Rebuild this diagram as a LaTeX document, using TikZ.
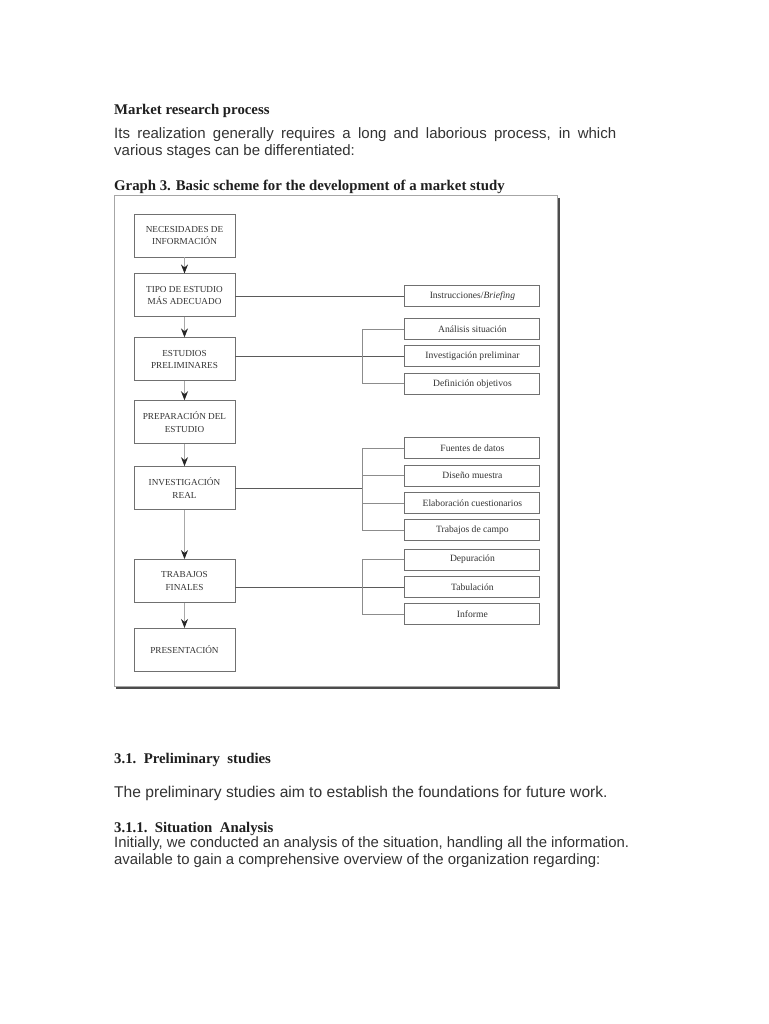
\documentclass[tikz,border=0pt]{standalone}
\usepackage{fontspec}
\setmainfont{Liberation Serif}
\newfontfamily\arialfont{Liberation Sans}
\usetikzlibrary{arrows.meta,positioning}
\definecolor{boxgray}{HTML}{707070}
\definecolor{linegray}{HTML}{5A5A5A}
\definecolor{brgray}{HTML}{8C8C8C}
\definecolor{arrgray}{HTML}{A8A8A8}
\definecolor{txtgray}{HTML}{333333}
\tikzset{
	stage/.style={
		rectangle,
		draw=boxgray,
		line width=0.9pt,
		minimum width=101pt,
		minimum height=43pt,
		align=center,
		inner sep=2pt,
		text=txtgray,
		font=\fontsize{9.2}{12.5}\selectfont
	},
	task/.style={
		rectangle,
		draw=boxgray,
		line width=0.9pt,
		minimum width=135pt,
		minimum height=21pt,
		inner sep=1pt,
		text=txtgray,
		font=\fontsize{9.6}{11}\selectfont
	},
	flow/.style={{Stealth[length=9pt,width=7pt,inset=3pt,color=black!85]}-,draw=arrgray,line width=0.8pt},
	link/.style={draw=linegray,line width=0.8pt},
	brace/.style={draw=brgray,line width=0.8pt},
	heading/.style={anchor=base west,inner sep=0pt,text=black!88,font=\fontsize{14.8}{17}\selectfont\bfseries},
	body/.style={anchor=base west,inner sep=0pt,text=txtgray,font=\arialfont\fontsize{15}{17}\selectfont}
}

\begin{document}
\begin{tikzpicture}[x=1pt,y=-1pt,node distance=5.5pt and 169pt]
	\useasboundingbox[fill=white] (0,0) rectangle (768,1024);
	% page text above the graph
	\node[heading] (title) at (114,115) {Market research process};
	\node[body] (intro1) at (114,139) {\makebox[502pt][s]{Its realization generally requires a long and laborious process, in which}};
	\node[body] (intro2) at (114,156) {various stages can be differentiated:};
	\node[heading] (caption) at (114,191) {Graph 3. Basic scheme for the development of a market study};

	% frame with shadow
	\draw[draw=gray!70,line width=0.8pt] (114,195) rectangle (557,686);
	\draw[draw=black!70,line width=1.6pt] (559,198) -- (559,688) -- (116,688);

	% main stages
	\node[stage] (need) at (184.5,235.5) {NECESIDADES DE\\INFORMACIÓN};
	\node[stage] (type) [below=16pt of need] {TIPO DE ESTUDIO\\MÁS ADECUADO} edge[flow] (need);
	\node[stage] (prelim) [below=20pt of type] {ESTUDIOS\\PRELIMINARES} edge[flow] (type);
	\node[stage] (prep) [below=19pt of prelim] {PREPARACIÓN DEL\\ESTUDIO} edge[flow] (prelim);
	\node[stage] (real) [below=22pt of prep] {INVESTIGACIÓN\\REAL} edge[flow] (prep);
	\node[stage] (final) [below=49pt of real] {TRABAJOS\\FINALES} edge[flow] (real);
	\node[stage] (pres) [below=25pt of final] {PRESENTACIÓN} edge[flow] (final);

	% tasks
	\node[task] (brief) [right=of type,yshift=-1pt] {Instrucciones/\textit{Briefing}};
	\node[task] (invprel) [right=of prelim,yshift=3pt] {Investigación preliminar};
	\node[task] (sit) [above=of invprel] {Análisis situación};
	\node[task] (obj) [below=of invprel] {Definición objetivos};
	\node[task] (sample) [right=of real,yshift=12.5pt] {Diseño muestra};
	\node[task] (sources) [above=of sample] {Fuentes de datos};
	\node[task] (quest) [below=of sample] {Elaboración cuestionarios};
	\node[task] (field) [below=of quest] {Trabajos de campo};
	\node[task] (tab) [right=of final,yshift=-6pt] {Tabulación};
	\node[task] (clean) [above=of tab] {Depuración};
	\node[task] (report) [below=of tab] {Informe};

	\coordinate[left=42pt of invprel.west] (bar1);
	\coordinate[left=42pt of sample.west] (bar2);
	\coordinate[left=42pt of tab.west] (bar3);

	% links
	\draw[link] (type.east |- brief) -- (brief);
	\draw[link] (prelim.east |- invprel) -- (invprel);
	\draw[link] (real.east) -- (real.east -| bar2);
	\draw[link] (final.east |- tab) -- (tab);
	\draw[brace] (sit.west) -| (bar1) |- (obj.west);
	\draw[brace] (sources.west -| bar2) -- (field.west -| bar2);
	\foreach \t in {sources,sample,quest,field}
		\draw[brace] (\t.west -| bar2) -- (\t.west);
	\draw[brace] (clean.west) -| (bar3) |- (report.west);

	% page text below the graph
	\node[heading] (sec) at (114,763) {3.1.\ \ Preliminary\ \ studies};
	\node[body,font=\arialfont\fontsize{15.6}{17}\selectfont] (aim) at (114,797) {The preliminary studies aim to establish the foundations for future work.};
	\node[heading] (subsec) at (114,832) {3.1.1.\ \ Situation\ \ Analysis};
	\node[body,font=\arialfont\fontsize{14.9}{17}\selectfont] (init1) at (114,847) {Initially, we conducted an analysis of the situation, handling all the information.};
	\node[body,font=\arialfont\fontsize{14.9}{17}\selectfont] (init2) at (114,864) {available to gain a comprehensive overview of the organization regarding:};
\end{tikzpicture}
\end{document}
